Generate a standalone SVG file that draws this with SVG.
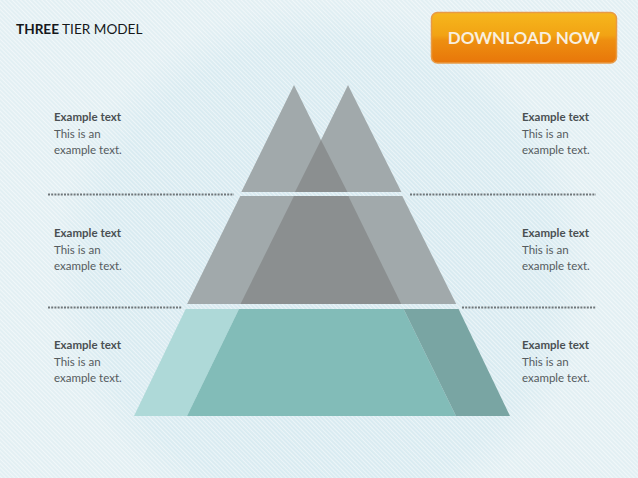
<svg xmlns="http://www.w3.org/2000/svg" width="638" height="478" viewBox="0 0 638 478">
<style>
.h{font:700 11.500px Lato,"Liberation Sans",sans-serif;fill:#4a5053}
.b{font:400 11.500px Lato,"Liberation Sans",sans-serif;fill:#555b5e}
.d{stroke:#70777a;stroke-width:2.2;stroke-dasharray:2 1.2;fill:none}
.g{fill:#a1a9ab}.gd{fill:#8b8f90}
</style>
<defs>
<pattern id="hatch" width="3" height="3" patternUnits="userSpaceOnUse" patternTransform="rotate(45)">
<rect width="3" height="1.100" fill="#ffffff" fill-opacity=".5"/>
</pattern>
<radialGradient id="bg" gradientUnits="userSpaceOnUse" cx="322" cy="270" r="270">
<stop offset="0" stop-color="#d6e9f0"/><stop offset=".85" stop-color="#d9ebf1"/><stop offset="1" stop-color="#e2eff3"/>
</radialGradient>
<linearGradient id="btn" x1="0" y1="0" x2="0" y2="1">
<stop offset="0" stop-color="#f6b71c"/><stop offset=".45" stop-color="#f2a314"/><stop offset=".55" stop-color="#ee8f10"/><stop offset="1" stop-color="#e8760a"/>
</linearGradient>
</defs>
<rect width="638" height="478" fill="url(#bg)"/>
<rect width="638" height="478" fill="url(#hatch)"/>
<g id="title"><text x="16" y="34" style="font:400 13.600px Lato,'Liberation Sans',sans-serif;fill:#15181a"><tspan font-weight="700">THREE</tspan> TIER MODEL</text></g>
<g id="download-button">
<rect x="431.500" y="12.500" width="185" height="50.500" rx="6" fill="url(#btn)" stroke="#e89a45" stroke-width="1.500"/>
<text x="524" y="44" text-anchor="middle" style="font:700 17px Lato,'Liberation Sans',sans-serif;fill:#f8efdf">DOWNLOAD NOW</text>
</g>
<g id="connectors">
<path class="d" d="M48 194.500H234M410 194.500H596M48 307.500H182M462 307.500H596"/>
</g>
<g id="tier-top">
<polygon class="g" points="294,85 321,140 348,85 401.400,192 241.300,192"/>
<polygon class="gd" points="321,140 347.400,192 295,192"/>
</g>
<g id="tier-middle">
<polygon class="g" points="240.300,196 402.300,196 456.200,304 187.100,304"/>
<polygon class="gd" points="294,196 348.300,196 401.200,304 240.500,304"/>
</g>
<g id="tier-bottom">
<polygon fill="#aed9d8" points="185.700,309 239,309 187,416 134,416"/>
<polygon fill="#82bcb8" points="239,309 403.600,309 456,416 187,416"/>
<polygon fill="#79a5a3" points="403.600,309 458.600,309 510,416 456,416"/>
</g>
<g id="label-left-1"><text class="h" x="54" y="121">Example text</text><text class="b" x="54" y="138">This is an</text><text class="b" x="54" y="154">example text.</text></g>
<g id="label-left-2"><text class="h" x="54" y="237">Example text</text><text class="b" x="54" y="254">This is an</text><text class="b" x="54" y="270">example text.</text></g>
<g id="label-left-3"><text class="h" x="54" y="349">Example text</text><text class="b" x="54" y="366">This is an</text><text class="b" x="54" y="382">example text.</text></g>
<g id="label-right-1"><text class="h" x="522" y="121">Example text</text><text class="b" x="522" y="138">This is an</text><text class="b" x="522" y="154">example text.</text></g>
<g id="label-right-2"><text class="h" x="522" y="237">Example text</text><text class="b" x="522" y="254">This is an</text><text class="b" x="522" y="270">example text.</text></g>
<g id="label-right-3"><text class="h" x="522" y="349">Example text</text><text class="b" x="522" y="366">This is an</text><text class="b" x="522" y="382">example text.</text></g>
</svg>
